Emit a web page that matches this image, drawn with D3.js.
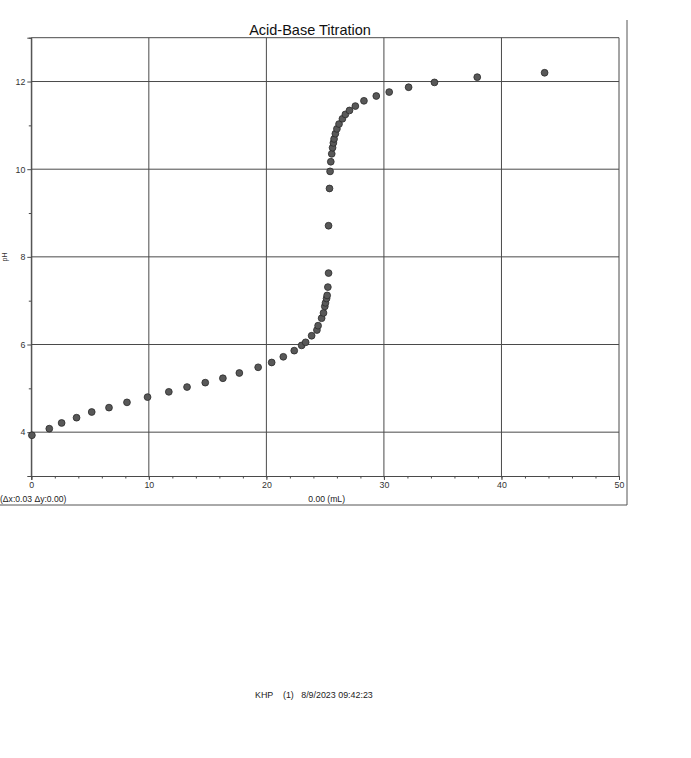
<!DOCTYPE html>
<html>
<head>
<meta charset="utf-8">
<script src="https://cdn.jsdelivr.net/npm/d3@7"></script>
<style>
  html, body { margin: 0; padding: 0; background: #fff; }
  svg { display: block; font-family: "Liberation Sans", Arial, sans-serif; }
</style>
</head>
<body>
<svg id="chart" width="691" height="758"></svg>
<script>
// Titrant volume (mL)
const volume = [0.05, 1.53, 2.58, 3.85, 5.14, 6.61, 8.14, 9.89, 11.7, 13.25, 14.8, 16.3, 17.7, 19.3,
  20.45, 21.44, 22.37, 23.0, 23.34, 23.85, 24.3, 24.4, 24.7, 24.86, 24.97, 25.03, 25.12, 25.17,
  25.23, 25.29, 25.29, 25.37, 25.42, 25.48, 25.56, 25.63, 25.7, 25.76, 25.87, 26.0, 26.18, 26.47,
  26.72, 27.07, 27.57, 28.3, 29.35, 30.45, 32.1, 34.3, 37.94, 43.67];
// Measured pH
const pH = [3.93, 4.08, 4.21, 4.33, 4.46, 4.56, 4.68, 4.80, 4.92, 5.03, 5.13, 5.23, 5.35, 5.48,
  5.59, 5.72, 5.86, 5.98, 6.05, 6.20, 6.33, 6.43, 6.60, 6.72, 6.87, 6.95, 7.05, 7.12,
  7.31, 7.63, 8.71, 9.56, 9.95, 10.17, 10.35, 10.49, 10.60, 10.69, 10.81, 10.92, 11.03, 11.15,
  11.25, 11.34, 11.44, 11.56, 11.67, 11.76, 11.87, 11.98, 12.10, 12.20];
const xTicks = [0, 10, 20, 30, 40, 50];
const yTicks = [4, 6, 8, 10, 12];
const xMinorTicks = d3.range(0, 51, 2);
const yMinorTicks = [3, 5, 7, 9, 11, 13];
const titleText = "Acid-Base Titration";
const yLabel = "pH";
const deltaText = "(\u0394x:0.03 \u0394y:0.00)";
const cursorText = "0.00 (mL)";
const footerText = "KHP    (1)   8/9/2023 09:42:23";

const svg = d3.select("#chart");
const L = 31.3, R = 619, T = 37.7, B = 476;
const x = d3.scaleLinear().domain([0, 50]).range([L, R]);
const y = d3.scaleLinear().domain([3, 13]).range([B, T]);
const gridColor = "#4a4a4a";

// outer frame lines
svg.append("line").attr("x1", 627).attr("x2", 627).attr("y1", 20).attr("y2", 505)
  .attr("stroke", "#555").attr("stroke-width", 1);
svg.append("line").attr("x1", 0).attr("x2", 627).attr("y1", 505).attr("y2", 505)
  .attr("stroke", "#555").attr("stroke-width", 1);

// gridlines
svg.append("g").selectAll("line").data(xTicks).join("line")
  .attr("x1", d => x(d)).attr("x2", d => x(d)).attr("y1", T).attr("y2", B)
  .attr("stroke", gridColor).attr("stroke-width", 1);
svg.append("g").selectAll("line").data(yTicks.concat([13])).join("line")
  .attr("x1", L).attr("x2", R).attr("y1", d => y(d)).attr("y2", d => y(d))
  .attr("stroke", gridColor).attr("stroke-width", 1);

// x axis
svg.append("g").attr("transform", `translate(0,${B})`)
  .call(d3.axisBottom(x).tickValues(xTicks).tickSize(4).tickPadding(2).tickFormat(d3.format("d")));
svg.append("g").attr("transform", `translate(0,${B})`)
  .call(d3.axisBottom(x).tickValues(xMinorTicks).tickSize(2.5).tickFormat(""))
  .call(g => g.select(".domain").remove());
// y axis
svg.append("g").attr("transform", `translate(${L},0)`)
  .call(d3.axisLeft(y).tickValues(yTicks).tickSize(4).tickPadding(2).tickFormat(d3.format("d")));
svg.append("g").attr("transform", `translate(${L},0)`)
  .call(d3.axisLeft(y).tickValues(yMinorTicks).tickSize(2.5).tickFormat(""))
  .call(g => g.select(".domain").remove());

svg.selectAll(".domain").attr("stroke", gridColor).attr("stroke-width", 1);
svg.selectAll(".tick line").attr("stroke", gridColor);
svg.selectAll(".tick text").attr("font-family", "Liberation Sans, Arial, sans-serif")
  .attr("font-size", 8.8).attr("fill", "#333");

// points
svg.append("g").selectAll("circle").data(volume.map((v, i) => [v, pH[i]])).join("circle")
  .attr("cx", d => x(d[0])).attr("cy", d => y(d[1])).attr("r", 3.4)
  .attr("fill", "#585858").attr("stroke", "#2a2a2a").attr("stroke-width", 0.8);

// title
svg.append("text").attr("x", 310).attr("y", 35).attr("text-anchor", "middle")
  .attr("font-size", 14.5).attr("fill", "#111").text(titleText);
// y label
svg.append("text").attr("transform", "translate(7,257) rotate(-90)").attr("text-anchor", "middle")
  .attr("font-size", 7).attr("fill", "#333").text(yLabel);
// bottom texts
svg.append("text").attr("x", 0).attr("y", 502).attr("font-size", 8.6).attr("fill", "#222").text(deltaText);
svg.append("text").attr("x", 345).attr("y", 502).attr("text-anchor", "end")
  .attr("font-size", 8.6).attr("fill", "#222").text(cursorText);
// footer
svg.append("text").attr("x", 255).attr("y", 698).attr("font-size", 8.9).attr("fill", "#222")
  .attr("xml:space", "preserve").style("white-space", "pre").text(footerText);
</script>
</body>
</html>
